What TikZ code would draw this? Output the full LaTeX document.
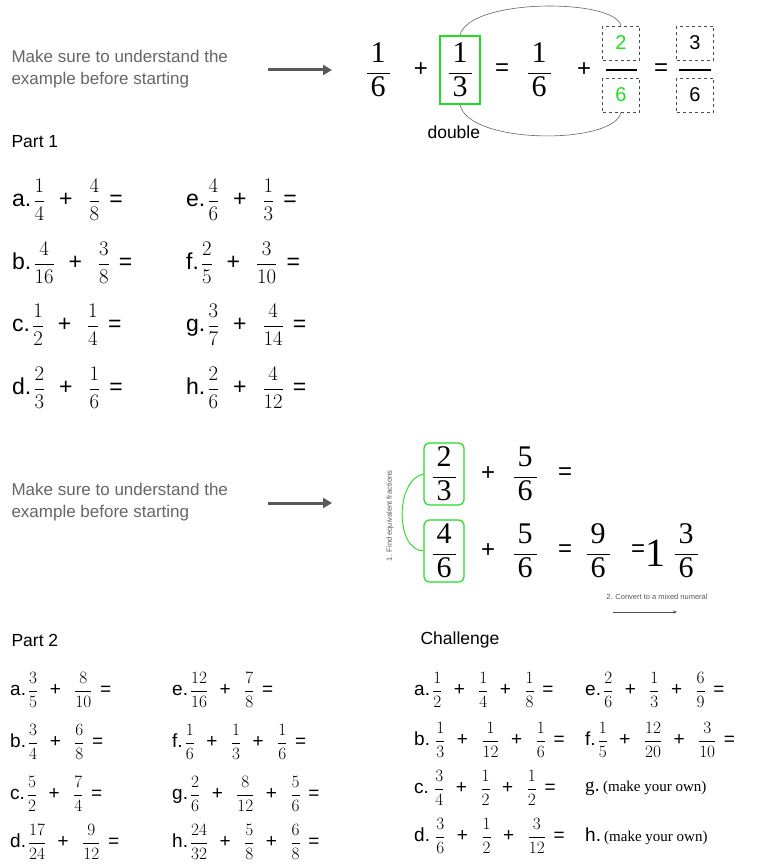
\documentclass[tikz,border=0pt]{standalone}
\usepackage{amsmath}
\usepackage{fontspec}
\setmainfont{Liberation Sans}
\newfontfamily\tms{Liberation Serif}
\usetikzlibrary{arrows.meta}
\definecolor{txtg}{HTML}{666666}
\definecolor{grn}{HTML}{22DD22}
\newcommand{\fsz}{17}
\newcommand{\fr}[2]{\kern2pt{\fontsize{\fsz}{18}\selectfont$\displaystyle\frac{#1}{#2}$}}
\newcommand{\bfr}[2]{$\displaystyle\frac{\hbox{\tms\kern4pt #1\kern4pt}}{\hbox{\tms\kern4pt #2\kern4pt}}$}
\newcommand{\pl}{\hspace{0.6em}+\hspace{0.6em}}
\newcommand{\eqs}{\hspace{0.4em}=}
\begin{document}
\begin{tikzpicture}[x=1pt,y=-1pt,
  note/.style={anchor=west,align=left,text=txtg,font=\fontsize{17}{22}\selectfont},
  head/.style={anchor=west,font=\fontsize{17.5}{20}\selectfont},
  ex/.style={anchor=west,inner sep=0pt,font=\renewcommand{\fsz}{22}\fontsize{23}{26}\selectfont},
  exs/.style={anchor=west,inner sep=0pt,font=\renewcommand{\fsz}{18.5}\fontsize{19}{22}\selectfont},
  exc/.style={anchor=west,inner sep=0pt,font=\renewcommand{\fsz}{16.5}\fontsize{19}{22}\selectfont},
  big/.style={inner sep=0pt,font=\fontsize{30}{32}\selectfont},
  sym/.style={inner sep=0pt,font=\fontsize{24}{26}\selectfont},
  bigarrow/.style={line width=3pt,draw=black!65,-{Triangle[length=9pt,width=10pt]}},
  gbox/.style={draw=grn,line width=1.2pt,minimum width=40pt,minimum height=66pt,inner sep=0pt},
  dbox/.style={draw=black!70,dashed,minimum width=37pt,minimum height=34pt,inner sep=0pt,font=\fontsize{20}{22}\selectfont},
  small/.style={text=black!65,font=\fontsize{7.5}{9}\selectfont,inner sep=0pt}]
\useasboundingbox[fill=white] (0,0) rectangle (768,866);
% top example
\node[note] (n1) at (8,69) {Make sure to understand the\\example before starting};
\coordinate (a1s) at (268,70); \coordinate (a1e) at (332,70);
\draw[bigarrow] (a1s) -- (a1e);
\node[big] (t1) at (378,70) {\bfr{1}{6}};
\node[sym] (tp1) at (421,70) {+};
\node[gbox,minimum height=68pt] (tg) at (460,70) {};
\node[big] (t2) at (460,70) {\bfr{1}{3}};
\node[sym] (te1) at (502,70) {=};
\node[big] (t3) at (539,70) {\bfr{1}{6}};
\node[sym] (tp2) at (584,70) {+};
\node[dbox,text=grn] (d1) at (621,43) {2};
\node[dbox,text=grn] (d2) at (621,95) {6};
\coordinate (l1a) at (606,70); \coordinate (l1b) at (637,70);
\draw[line width=1.5pt] (l1a) -- (l1b);
\node[sym] (te2) at (661,70) {=};
\node[dbox] (d3) at (695,43) {3};
\node[dbox] (d4) at (695,95) {6};
\coordinate (l2a) at (679,70); \coordinate (l2b) at (711,70);
\draw[line width=1.5pt] (l2a) -- (l2b);
\draw[black!60,line width=0.6pt] (tg.north) .. controls (468,-2) and (615,-2) .. (d1.north);
\draw[black!60,line width=0.6pt] (tg.south) .. controls (468,145) and (615,145) .. (d2.south);
\node[head] (dbl) at (424,132) {double};
% Part 1
\node[head] (p1) at (8,142) {Part 1};
\node[ex] (a) at (12,200) {a.\fr14\pl\fr48\eqs};
\node[ex] (b) at (12,263) {b.\fr4{16}\pl\fr38\eqs};
\node[ex] (c) at (12,325) {c.\fr12\pl\fr14\eqs};
\node[ex] (d) at (12,388) {d.\fr23\pl\fr16\eqs};
\node[ex] (e) at (186,200) {e.\fr46\pl\fr13\eqs};
\node[ex] (f) at (186,263) {f.\fr25\pl\fr3{10}\eqs};
\node[ex] (g) at (186,325) {g.\fr37\pl\fr4{14}\eqs};
\node[ex] (h) at (186,388) {h.\fr26\pl\fr4{12}\eqs};
% middle example
\node[note] (n2) at (8,502) {Make sure to understand the\\example before starting};
\coordinate (a2s) at (268,503); \coordinate (a2e) at (332,503);
\draw[bigarrow] (a2s) -- (a2e);
\node[gbox,rounded corners=5pt,minimum height=62pt] (g1) at (444,474) {};
\node[big] (m1) at (444,474) {\bfr{2}{3}};
\node[sym] (mp1) at (488,474) {+};
\node[big] (m2) at (525,474) {\bfr{5}{6}};
\node[sym] (me1) at (565,474) {=};
\node[gbox,rounded corners=5pt,minimum height=62pt] (g2) at (444,551) {};
\node[big] (m3) at (444,551) {\bfr{4}{6}};
\node[sym] (mp2) at (488,551) {+};
\node[big] (m4) at (525,551) {\bfr{5}{6}};
\node[sym] (me2) at (565,551) {=};
\node[big] (m5) at (598,551) {\bfr{9}{6}};
\node[sym] (me3) at (638,551) {=};
\node[big,font=\tms\fontsize{40}{40}\selectfont] (one) at (655,553) {1};
\node[big] (m6) at (686,551) {\bfr{3}{6}};
\draw[grn,line width=0.9pt] (g1.west) .. controls (395,480) and (395,550) .. (g2.west);
\node[small,rotate=90] (lab1) at (390,516) {1. Find equivalent fractions};
\node[small] (lab2) at (657,597) {2. Convert to a mixed numeral};
\coordinate (a3s) at (613,612); \coordinate (a3e) at (677,612);
\draw[black!70,line width=0.5pt,-{Stealth[length=4pt]}] (a3s) -- (a3e);
% Part 2
\node[head] (p2) at (8,640) {Part 2};
\node[exs] (pa) at (10,690) {a.\fr35\pl\fr8{10}\eqs};
\node[exs] (pb) at (10,742) {b.\fr34\pl\fr68\eqs};
\node[exs] (pc) at (10,794) {c.\fr52\pl\fr74\eqs};
\node[exs] (pd) at (10,842) {d.\fr{17}{24}\pl\fr9{12}\eqs};
\node[exs] (pe) at (172,690) {e.\fr{12}{16}\pl\fr78\eqs};
\node[exs] (pf) at (172,742) {f.\fr16\pl\fr13\pl\fr16\eqs};
\node[exs] (pg) at (172,794) {g.\fr26\pl\fr8{12}\pl\fr56\eqs};
\node[exs] (ph) at (172,842) {h.\fr{24}{32}\pl\fr58\pl\fr68\eqs};
% Challenge
\node[head] (ch) at (417,640) {Challenge};
\node[exc] (ca) at (414,690) {a.\fr12\pl\fr14\pl\fr18\eqs};
\node[exc] (cb) at (414,740) {b.\,\fr13\pl\fr1{12}\pl\fr16\eqs};
\node[exc] (cc) at (414,788) {c.\,\fr34\pl\fr12\pl\fr12\eqs};
\node[exc] (cd) at (414,836) {d.\,\fr36\pl\fr12\pl\fr3{12}\eqs};
\node[exc] (ce) at (585,690) {e.\fr26\pl\fr13\pl\fr69\eqs};
\node[exc] (cf) at (585,740) {f.\fr15\pl\fr{12}{20}\pl\fr3{10}\eqs};
\node[exc] (cg) at (585,788) {{\tms g}.\,{\tms\fontsize{15}{16}\selectfont(make your own)}};
\node[exc] (chh) at (585,836) {h.\,{\tms\fontsize{15}{16}\selectfont(make your own)}};
\end{tikzpicture}
\end{document}
